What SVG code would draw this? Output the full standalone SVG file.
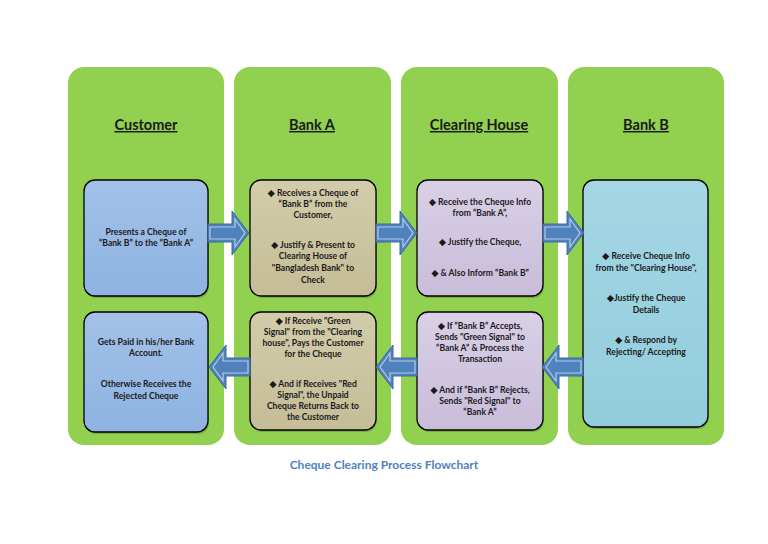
<svg xmlns="http://www.w3.org/2000/svg" width="768" height="544" viewBox="0 0 768 544">
<style>
.col{fill:#92D050;}
.box{stroke:#000;stroke-width:1.3;}
.sh{fill:#000;opacity:0.18;}
.hd{font-family:Lato,"Liberation Sans",sans-serif;font-weight:bold;font-size:14.5px;fill:#1a1a1a;text-anchor:middle;text-decoration:underline;}
.t{font-family:Lato,"Liberation Sans","DejaVu Sans",sans-serif;font-weight:bold;font-size:8.6px;fill:#1a1a1a;text-anchor:middle;}
.d{font-family:"DejaVu Sans",sans-serif;font-weight:normal;font-size:9.5px;}
.ttl{font-family:Lato,"Liberation Sans",sans-serif;font-weight:bold;font-size:12px;fill:#4F81BD;text-anchor:middle;}
.ar{fill:#4F81BD;stroke:#3A6AA5;stroke-width:1;}
.ari{fill:none;stroke:#B8CCE4;stroke-width:1.2;}
</style>
<defs>
<linearGradient id="gBlue" x1="0" y1="0" x2="0" y2="1"><stop offset="0" stop-color="#A3C1E8"/><stop offset="1" stop-color="#8DB3E2"/></linearGradient>
<linearGradient id="gTan" x1="0" y1="0" x2="0" y2="1"><stop offset="0" stop-color="#D2CCAA"/><stop offset="1" stop-color="#C4BD97"/></linearGradient>
<linearGradient id="gLav" x1="0" y1="0" x2="0" y2="1"><stop offset="0" stop-color="#D9CFE6"/><stop offset="1" stop-color="#C9BDDA"/></linearGradient>
<linearGradient id="gCyan" x1="0" y1="0" x2="0" y2="1"><stop offset="0" stop-color="#A5D6E4"/><stop offset="1" stop-color="#92CDDC"/></linearGradient>
</defs>
<rect width="768" height="544" fill="#fff"/>

<g id="col-customer">
<rect class="col" x="68" y="67" width="156" height="378" rx="16"/>
<text class="hd" x="146" y="130">Customer</text>
</g>
<g id="col-banka">
<rect class="col" x="234" y="67" width="157" height="378" rx="16"/>
<text class="hd" x="312" y="130">Bank A</text>
</g>
<g id="col-clearing">
<rect class="col" x="401" y="67" width="157" height="378" rx="16"/>
<text class="hd" x="479" y="130">Clearing House</text>
</g>
<g id="col-bankb">
<rect class="col" x="568" y="67" width="156" height="378" rx="16"/>
<text class="hd" x="646" y="130">Bank B</text>
</g>

<g id="node-customer-top">
<rect class="sh" x="85" y="182" width="124" height="116" rx="11"/>
<rect class="box" x="84" y="180" width="124" height="116" rx="11" fill="url(#gBlue)"/>
<text class="t" x="146" y="235">Presents a Cheque of</text>
<text class="t" x="146" y="246">“Bank B” to the “Bank A”</text>
</g>
<g id="node-customer-bottom">
<rect class="sh" x="85" y="314" width="124" height="120" rx="11"/>
<rect class="box" x="84" y="312" width="124" height="120" rx="11" fill="url(#gBlue)"/>
<text class="t" x="146" y="345">Gets Paid in his/her Bank</text>
<text class="t" x="146" y="356">Account.</text>
<text class="t" x="146" y="387">Otherwise Receives the</text>
<text class="t" x="146" y="399">Rejected Cheque</text>
</g>
<g id="node-banka-top">
<rect class="sh" x="251" y="182" width="126" height="116" rx="11"/>
<rect class="box" x="250" y="180" width="126" height="116" rx="11" fill="url(#gTan)"/>
<text class="t" x="313" y="196"><tspan class="d">◆</tspan> Receives a Cheque of</text>
<text class="t" x="313" y="207">“Bank B” from the</text>
<text class="t" x="313" y="218">Customer,</text>
<text class="t" x="313" y="248"><tspan class="d">◆</tspan> Justify &amp; Present to</text>
<text class="t" x="313" y="259">Clearing House of</text>
<text class="t" x="313" y="271">"Bangladesh Bank" to</text>
<text class="t" x="313" y="283">Check</text>
</g>
<g id="node-banka-bottom">
<rect class="sh" x="251" y="314" width="126" height="118" rx="11"/>
<rect class="box" x="250" y="312" width="126" height="118" rx="11" fill="url(#gTan)"/>
<text class="t" x="313" y="324"><tspan class="d">◆</tspan> If Receive "Green</text>
<text class="t" x="313" y="335">Signal" from the "Clearing</text>
<text class="t" x="313" y="346">house", Pays the Customer</text>
<text class="t" x="313" y="357">for the Cheque</text>
<text class="t" x="313" y="387"><tspan class="d">◆</tspan> And if Receives "Red</text>
<text class="t" x="313" y="398">Signal", the Unpaid</text>
<text class="t" x="313" y="409">Cheque Returns Back to</text>
<text class="t" x="313" y="420">the Customer</text>
</g>
<g id="node-clearing-top">
<rect class="sh" x="418" y="182" width="126" height="116" rx="11"/>
<rect class="box" x="417" y="180" width="126" height="116" rx="11" fill="url(#gLav)"/>
<text class="t" x="480" y="205"><tspan class="d">◆</tspan> Receive the Cheque Info</text>
<text class="t" x="480" y="216">from “Bank A”,</text>
<text class="t" x="480" y="245"><tspan class="d">◆</tspan> Justify the Cheque,</text>
<text class="t" x="480" y="276"><tspan class="d">◆</tspan> &amp; Also Inform “Bank B”</text>
</g>
<g id="node-clearing-bottom">
<rect class="sh" x="418" y="314" width="126" height="118" rx="11"/>
<rect class="box" x="417" y="312" width="126" height="118" rx="11" fill="url(#gLav)"/>
<text class="t" x="480" y="329"><tspan class="d">◆</tspan> If “Bank B” Accepts,</text>
<text class="t" x="480" y="340">Sends "Green Signal" to</text>
<text class="t" x="480" y="351">“Bank A” &amp; Process the</text>
<text class="t" x="480" y="362">Transaction</text>
<text class="t" x="480" y="393"><tspan class="d">◆</tspan> And if “Bank B” Rejects,</text>
<text class="t" x="480" y="404">Sends "Red Signal" to</text>
<text class="t" x="480" y="415">“Bank A”</text>
</g>
<g id="node-bankb">
<rect class="sh" x="584" y="182" width="125" height="247" rx="11"/>
<rect class="box" x="583" y="180" width="125" height="247" rx="11" fill="url(#gCyan)"/>
<text class="t" x="646" y="259"><tspan class="d">◆</tspan> Receive Cheque Info</text>
<text class="t" x="646" y="271">from the "Clearing House",</text>
<text class="t" x="646" y="301"><tspan class="d">◆</tspan>Justify the Cheque</text>
<text class="t" x="646" y="313">Details</text>
<text class="t" x="646" y="343"><tspan class="d">◆</tspan> &amp; Respond by</text>
<text class="t" x="646" y="355">Rejecting/ Accepting</text>
</g>

<g id="connectors">
<path class="ar" d="M208,224 H232 V211 L249,233 L232,255 V242 H208 Z"/>
<path class="ari" d="M210,227 H235 V219 L245,233 L235,247 V239 H210 Z"/>
<path class="ar" d="M376,224 H400 V211 L417,233 L400,255 V242 H376 Z"/>
<path class="ari" d="M378,227 H403 V219 L413,233 L403,247 V239 H378 Z"/>
<path class="ar" d="M543,224 H567 V211 L584,233 L567,255 V242 H543 Z"/>
<path class="ari" d="M545,227 H570 V219 L580,233 L570,247 V239 H545 Z"/>

<path class="ar" d="M583,358 H559 V345 L542,367 L559,389 V376 H583 Z"/>
<path class="ari" d="M581,361 H556 V353 L546,367 L556,381 V373 H581 Z"/>
<path class="ar" d="M417,358 H393 V345 L376,367 L393,389 V376 H417 Z"/>
<path class="ari" d="M415,361 H390 V353 L380,367 L390,381 V373 H415 Z"/>
<path class="ar" d="M250,358 H226 V345 L209,367 L226,389 V376 H250 Z"/>
<path class="ari" d="M248,361 H223 V353 L213,367 L223,381 V373 H248 Z"/>
</g>

<text class="ttl" x="384" y="469">Cheque Clearing Process Flowchart</text>
</svg>
